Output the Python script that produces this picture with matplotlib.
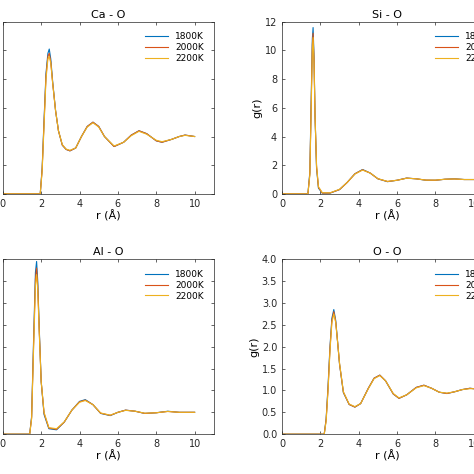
import matplotlib.pyplot as plt

temps = ["1800K", "2000K", "2200K"]
colors = ["#0072BD", "#D95319", "#EDB120"]

r_ca = [0, 1, 1.95, 2.05, 2.15, 2.25, 2.35, 2.42, 2.5, 2.6, 2.75, 2.9, 3.1, 3.3, 3.5, 3.8, 4.1, 4.4, 4.7, 5.0, 5.3, 5.8, 6.3, 6.7, 7.1, 7.5, 8.0, 8.3, 8.8, 9.2, 9.5, 10]
g_ca_1800 = [0, 0, 0, 0.9, 2.6, 4.2, 4.9, 5.05, 4.7, 3.9, 2.9, 2.2, 1.7, 1.55, 1.5, 1.6, 2.0, 2.35, 2.5, 2.35, 2.0, 1.65, 1.8, 2.05, 2.2, 2.1, 1.85, 1.8, 1.9, 2.0, 2.05, 2.0]
g_ca_2000 = [0, 0, 0, 0.85, 2.5, 4.1, 4.8, 4.9, 4.6, 3.85, 2.9, 2.2, 1.7, 1.55, 1.5, 1.6, 2.0, 2.35, 2.5, 2.35, 2.0, 1.65, 1.8, 2.05, 2.2, 2.1, 1.85, 1.8, 1.9, 2.0, 2.05, 2.0]
g_ca_2200 = [0, 0, 0, 0.8, 2.4, 4.0, 4.7, 4.8, 4.55, 3.85, 2.9, 2.2, 1.72, 1.56, 1.52, 1.6, 2.0, 2.33, 2.48, 2.33, 2.0, 1.67, 1.8, 2.03, 2.18, 2.08, 1.87, 1.82, 1.9, 2.0, 2.04, 2.0]

r_si = [0, 1, 1.35, 1.45, 1.52, 1.58, 1.62, 1.67, 1.72, 1.8, 1.9, 2.1, 2.5, 3.0, 3.4, 3.8, 4.2, 4.6, 5.0, 5.5, 6.0, 6.5, 7.0, 7.5, 8.0, 8.5, 9.0, 9.5, 10]
g_si_1800 = [0, 0, 0, 1.5, 6.5, 10.8, 11.6, 9.5, 5.5, 1.8, 0.4, 0.05, 0.05, 0.3, 0.8, 1.4, 1.7, 1.45, 1.05, 0.85, 0.95, 1.1, 1.05, 0.95, 0.95, 1.02, 1.05, 1.0, 1.0]
g_si_2000 = [0, 0, 0, 1.4, 6.2, 10.4, 11.2, 9.3, 5.5, 1.9, 0.45, 0.06, 0.06, 0.3, 0.8, 1.4, 1.68, 1.45, 1.05, 0.86, 0.95, 1.1, 1.05, 0.96, 0.95, 1.02, 1.04, 1.0, 1.0]
g_si_2200 = [0, 0, 0, 1.3, 5.9, 10.0, 10.9, 9.1, 5.5, 2.0, 0.5, 0.08, 0.07, 0.32, 0.8, 1.38, 1.66, 1.45, 1.06, 0.87, 0.95, 1.09, 1.05, 0.96, 0.96, 1.02, 1.04, 1.0, 1.0]

r_al = [0, 1, 1.4, 1.5, 1.6, 1.7, 1.76, 1.82, 1.9, 2.0, 2.15, 2.4, 2.8, 3.2, 3.6, 4.0, 4.3, 4.7, 5.1, 5.6, 6.0, 6.4, 6.9, 7.4, 8.0, 8.6, 9.2, 10]
g_al_1800 = [0, 0, 0, 0.8, 4.2, 7.4, 7.9, 7.0, 4.8, 2.4, 0.9, 0.25, 0.2, 0.55, 1.1, 1.5, 1.58, 1.35, 0.95, 0.85, 1.0, 1.1, 1.05, 0.95, 0.98, 1.05, 1.0, 1.0]
g_al_2000 = [0, 0, 0, 0.75, 4.0, 7.1, 7.6, 6.8, 4.7, 2.4, 0.95, 0.28, 0.22, 0.55, 1.1, 1.48, 1.56, 1.35, 0.96, 0.86, 1.0, 1.1, 1.05, 0.95, 0.98, 1.04, 1.0, 1.0]
g_al_2200 = [0, 0, 0, 0.7, 3.8, 6.8, 7.3, 6.6, 4.6, 2.4, 1.0, 0.3, 0.25, 0.56, 1.1, 1.46, 1.54, 1.35, 0.97, 0.87, 1.0, 1.09, 1.05, 0.96, 0.98, 1.04, 1.0, 1.0]

r_oo = [0, 1, 2.2, 2.3, 2.4, 2.5, 2.6, 2.7, 2.8, 2.9, 3.0, 3.2, 3.5, 3.8, 4.1, 4.5, 4.8, 5.1, 5.4, 5.8, 6.1, 6.5, 7.0, 7.4, 7.8, 8.2, 8.6, 9.0, 9.4, 9.8, 10]
g_oo_1800 = [0, 0, 0, 0.35, 1.1, 2.0, 2.65, 2.85, 2.6, 2.1, 1.6, 0.95, 0.68, 0.62, 0.7, 1.05, 1.28, 1.35, 1.22, 0.92, 0.82, 0.9, 1.07, 1.12, 1.05, 0.96, 0.93, 0.97, 1.02, 1.05, 1.04]
g_oo_2000 = [0, 0, 0, 0.33, 1.05, 1.95, 2.6, 2.8, 2.57, 2.1, 1.6, 0.96, 0.68, 0.62, 0.7, 1.05, 1.28, 1.35, 1.22, 0.92, 0.82, 0.9, 1.07, 1.12, 1.05, 0.96, 0.93, 0.97, 1.02, 1.05, 1.04]
g_oo_2200 = [0, 0, 0, 0.3, 1.0, 1.9, 2.55, 2.75, 2.55, 2.1, 1.62, 0.97, 0.69, 0.63, 0.7, 1.04, 1.27, 1.34, 1.22, 0.93, 0.83, 0.9, 1.06, 1.11, 1.05, 0.96, 0.94, 0.97, 1.02, 1.04, 1.04]

panels = [
    ("Ca - O", r_ca, [g_ca_1800, g_ca_2000, g_ca_2200], (0, 6), range(0, 7), [0.006, 0.591, 0.445, 0.363], (0.98, 0.97)),
    ("Si - O", r_si, [g_si_1800, g_si_2000, g_si_2200], (0, 12), range(0, 13, 2), [0.595, 0.591, 0.445, 0.363], (1.03, 0.97)),
    ("Al - O", r_al, [g_al_1800, g_al_2000, g_al_2200], (0, 8), range(0, 9), [0.006, 0.084, 0.445, 0.369], (0.98, 0.97)),
    ("O - O", r_oo, [g_oo_1800, g_oo_2000, g_oo_2200], (0, 4), [0, 0.5, 1, 1.5, 2, 2.5, 3, 3.5, 4], [0.595, 0.084, 0.445, 0.369], (1.03, 0.97)),
]

fig = plt.figure(figsize=(4.74, 4.74), dpi=100)
for title, r, gs, ylim, yt, pos, lpos in panels:
    ax = fig.add_axes(pos)
    for g, c, t in zip(gs, colors, temps):
        ax.plot(r, g, color=c, lw=0.8, label=t)
    ax.set_xlim(0, 11)
    ax.set_ylim(*ylim)
    ax.set_xticks([0, 2, 4, 6, 8, 10])
    ax.set_yticks(list(yt))
    right = pos[0] > 0.5
    ax.tick_params(labelsize=7, direction="in", length=2, width=0.5, colors="#262626",
                   top=True, right=True, labelleft=right)
    for s in ax.spines.values():
        s.set_linewidth(0.5)
        s.set_color("#262626")
    ax.set_title(title, fontsize=8, pad=3)
    ax.set_xlabel("r (Å)", fontsize=8, labelpad=1)
    if right:
        ax.set_ylabel("g(r)", fontsize=8, labelpad=2)
    ax.legend(loc="upper right", bbox_to_anchor=lpos, fontsize=6.5, frameon=False,
              handlelength=2.5, labelspacing=0.2, borderaxespad=0.2)

fig.savefig("out.png", dpi=100)
